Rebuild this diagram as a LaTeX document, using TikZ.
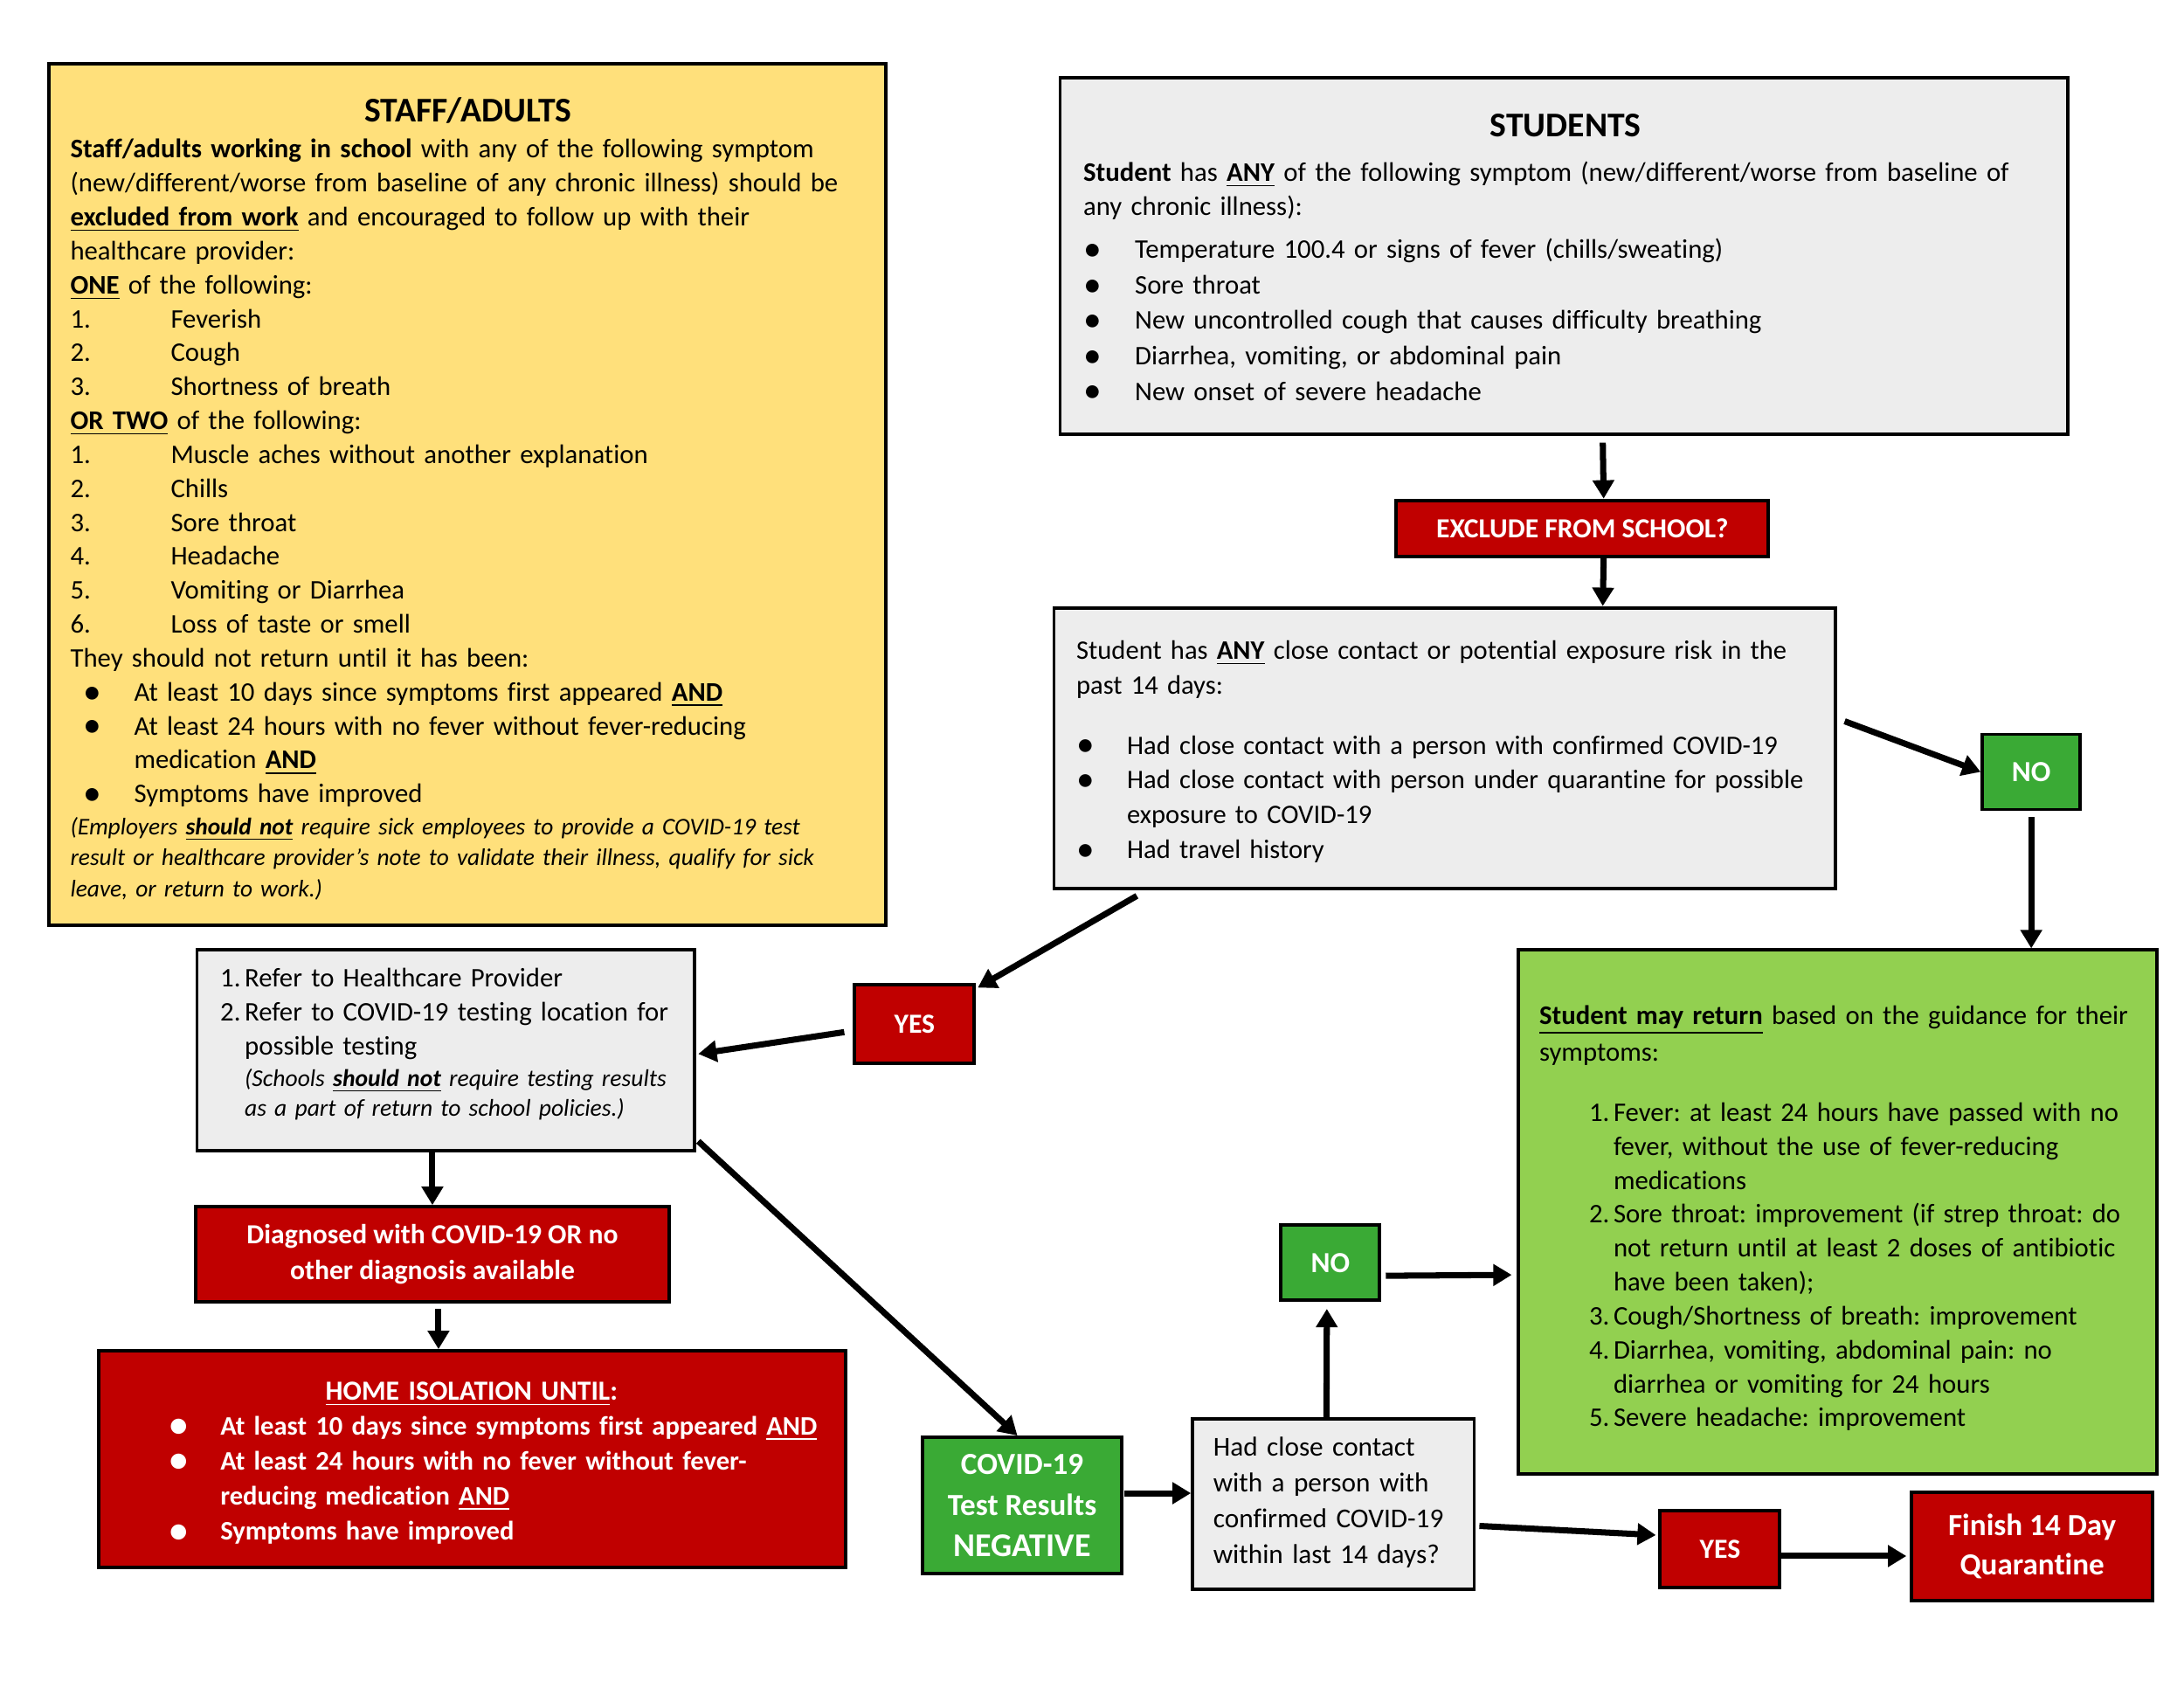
\documentclass[tikz,border=0pt]{standalone}
\usepackage{fontspec}
\setmainfont{Carlito}[Ligatures={TeX,NoCommon}]
\usetikzlibrary{fit,calc,arrows.meta}
\definecolor{yel}{HTML}{FFE07B}
\definecolor{gry}{HTML}{EDEDED}
\definecolor{dred}{HTML}{C00000}
\definecolor{dgrn}{HTML}{3AAA35}
\definecolor{lgrn}{HTML}{92D050}
\frenchspacing
\newcommand{\mybul}[1]{\makebox[#1][l]{\raisebox{-0.8pt}{\scalebox{1.35}{\textbullet}}}}
\newcommand{\mynum}[2]{\makebox[#1][l]{#2}}
\begin{document}
\begin{tikzpicture}[x=0.00998cm,y=-0.01cm,
  bx/.style={draw=black,line width=1.1pt,inner sep=0pt},
  arr/.style={line width=2pt,-{Triangle[length=6pt,width=6.8pt]}},
  tx/.style={anchor=base west,inner sep=0pt,align=left,text width=12cm},
  ctx/.style={anchor=base,inner sep=0pt,align=center,text width=8cm},
  nine/.style={font=\fontsize{8.75}{11.05}\selectfont},
  wb/.style={text=white,font=\fontsize{9}{11}\selectfont\bfseries,align=center}
]
\useasboundingbox (0cm,0cm) rectangle (25cm,-19.32cm);
\fill[white] (0cm,0cm) rectangle (25cm,-19.32cm);

% ---------- boxes ----------
\node[bx,fill=yel,fit={(56,73)(1016,1060)}] (staff) {};
\node[bx,fill=gry,fit={(1216,89)(2372,497)}] (students) {};
\node[bx,fill=dred,wb,minimum width=4.26cm,minimum height=0.64cm] (excl) at (1815,605) {EXCLUDE FROM SCHOOL?};
\node[bx,fill=gry,fit={(1209,696)(2105,1018)}] (expo) {};
\node[bx,fill=dgrn,wb,font=\fontsize{9.5}{11}\selectfont\bfseries,minimum width=1.12cm,minimum height=0.86cm] (no1) at (2330,884) {NO};
\node[bx,fill=lgrn,fit={(1742,1088)(2474,1688)}] (green) {};
\node[bx,fill=gry,fit={(226,1088)(797,1318)}] (refer) {};
\node[bx,fill=dred,wb,minimum width=1.37cm,minimum height=0.90cm] (yes1) at (1049,1173) {YES};
\node[bx,fill=dred,wb,font=\fontsize{9}{11.7}\selectfont\bfseries,minimum width=5.42cm,minimum height=1.09cm] (diag) at (496,1436.5) {Diagnosed with COVID-19 OR no\\other diagnosis available};
\node[bx,fill=dred,fit={(113,1547)(970,1795)}] (home) {};
\node[bx,fill=dgrn,wb,font=\fontsize{10}{13.4}\selectfont\bfseries,minimum width=2.28cm,minimum height=1.56cm] (neg) at (1172.5,1724) {COVID-19\\Test Results\\{\fontsize{10.8}{13.4}\selectfont NEGATIVE}};
\node[bx,fill=gry,fit={(1368,1625)(1691,1820)}] (had) {};
\node[bx,fill=dgrn,wb,font=\fontsize{9.5}{11}\selectfont\bfseries,minimum width=1.13cm,minimum height=0.86cm] (no2) at (1526,1446) {NO};
\node[bx,fill=dred,wb,minimum width=1.37cm,minimum height=0.88cm] (yes2) at (1973,1774) {YES};
\node[bx,fill=dred,wb,font=\fontsize{10}{12.8}\selectfont\bfseries,minimum width=2.76cm,minimum height=1.24cm] (finish) at (2331,1771) {Finish 14 Day\\Quarantine};

% ---------- texts ----------
\node[ctx,font=\fontsize{11.3}{13}\selectfont\bfseries] (stafftitle) at (537,140) {STAFF/ADULTS};
\node[tx,nine] (staffbody) at (80,181) {%
\textbf{Staff/adults working in school} with any of the following symptom\\
(new/different/worse from baseline of any chronic illness) should be\\
\underline{\textbf{excluded from work}} and encouraged to follow up with their\\
healthcare provider:\\
\underline{\textbf{ONE}} of the following:\\
\mynum{1.15cm}{1.}Feverish\\
\mynum{1.15cm}{2.}Cough\\
\mynum{1.15cm}{3.}Shortness of breath\\
\underline{\textbf{OR TWO}} of the following:\\
\mynum{1.15cm}{1.}Muscle aches without another explanation\\
\mynum{1.15cm}{2.}Chills\\
\mynum{1.15cm}{3.}Sore throat\\
\mynum{1.15cm}{4.}Headache\\
\mynum{1.15cm}{5.}Vomiting or Diarrhea\\
\mynum{1.15cm}{6.}Loss of taste or smell\\
They should not return until it has been:\\
\hspace*{0.15cm}\mybul{0.58cm}At least 10 days since symptoms first appeared \underline{\textbf{AND}}\\
\hspace*{0.15cm}\mybul{0.58cm}At least 24 hours with no fever without fever-reducing\\
\hspace*{0.73cm}medication \underline{\textbf{AND}}\\
\hspace*{0.15cm}\mybul{0.58cm}Symptoms have improved};
\node[tx,font=\fontsize{7.8}{10.1}\selectfont\itshape] (staffnote) at (80,956) {%
(Employers \underline{\textbf{should not}} require sick employees to provide a COVID-19 test\\
result or healthcare provider’s note to validate their illness, qualify for sick\\
leave, or return to work.)};

\node[ctx,font=\fontsize{11.3}{13}\selectfont\bfseries] (studtitle) at (1796,157) {STUDENTS};
\node[tx,nine] (studbody) at (1242,208) {%
\textbf{Student} has \underline{\textbf{ANY}} of the following symptom (new/different/worse from baseline of\\
any chronic illness):\\[2.9pt]
\mybul{0.59cm}Temperature 100.4 or signs of fever (chills/sweating)\\[0.5pt]
\mybul{0.59cm}Sore throat\\[0.5pt]
\mybul{0.59cm}New uncontrolled cough that causes difficulty breathing\\[0.5pt]
\mybul{0.59cm}Diarrhea, vomiting, or abdominal pain\\[0.5pt]
\mybul{0.59cm}New onset of severe headache};

\node[tx,font=\fontsize{8.7}{11.3}\selectfont] (expotxt) at (1234,755) {%
Student has \underline{\textbf{ANY}} close contact or potential exposure risk in the\\
past 14 days:\\[8.3pt]
\mybul{0.58cm}Had close contact with a person with confirmed COVID-19\\
\mybul{0.58cm}Had close contact with person under quarantine for possible\\
\hspace*{0.58cm}exposure to COVID-19\\
\mybul{0.58cm}Had travel history};

\node[tx,font=\fontsize{8.75}{11.1}\selectfont] (refertxt) at (252,1130) {%
\mynum{0.28cm}{1.}Refer to Healthcare Provider\\
\mynum{0.28cm}{2.}Refer to COVID-19 testing location for\\
\hspace*{0.28cm}possible testing};
\node[tx,font=\fontsize{7.85}{9.7}\selectfont\itshape] (refernote) at (280,1244) {%
(Schools \underline{\textbf{should not}} require testing results\\
as a part of return to school policies.)};

\node[ctx,text=white,font=\fontsize{9}{11}\selectfont\bfseries] (hometitle) at (541,1603) {\underline{HOME ISOLATION UNTIL}:};
\node[tx,text=white,font=\fontsize{8.7}{11.4}\selectfont\bfseries] (homebody) at (194,1643) {%
\mybul{0.58cm}At least 10 days since symptoms first appeared \underline{AND}\\
\mybul{0.58cm}At least 24 hours with no fever without fever-\\
\hspace*{0.58cm}reducing medication \underline{AND}\\
\mybul{0.58cm}Symptoms have improved};

\node[tx,font=\fontsize{8.9}{11.7}\selectfont] (hadtxt) at (1391,1667) {%
Had close contact\\
with a person with\\
confirmed COVID-19\\
within last 14 days?};

\node[tx,nine] (greentxt) at (1765,1173) {%
\underline{\textbf{Student may return}} based on the guidance for their\\[1pt]
symptoms:\\[8.5pt]
\hspace*{0.57cm}\mynum{0.28cm}{1.}Fever: at least 24 hours have passed with no\\
\hspace*{0.85cm}fever, without the use of fever-reducing\\
\hspace*{0.85cm}medications\\
\hspace*{0.57cm}\mynum{0.28cm}{2.}Sore throat: improvement (if strep throat: do\\
\hspace*{0.85cm}not return until at least 2 doses of antibiotic\\
\hspace*{0.85cm}have been taken);\\
\hspace*{0.57cm}\mynum{0.28cm}{3.}Cough/Shortness of breath: improvement\\
\hspace*{0.57cm}\mynum{0.28cm}{4.}Diarrhea, vomiting, abdominal pain: no\\
\hspace*{0.85cm}diarrhea or vomiting for 24 hours\\
\hspace*{0.57cm}\mynum{0.28cm}{5.}Severe headache: improvement};

% ---------- connectors ----------
\draw[arr] ($(students.south)+(44.5,8)$) -- ($(excl.north)+(24.5,0)$);
\draw[arr] ($(excl.south)+(24.5,0)$) -- ($(expo.north)+(181.5,0)$);
\draw[arr] ($(expo.east)+(9,-31)$) -- (no1.west);
\draw[arr] ($(no1.south)+(0,7)$) -- (green.north -| no1.south);
\draw[arr] ($(expo.south west)+(97,6)$) -- ($(yes1.north east)+(2,5)$);
\draw[arr] ($(yes1.west)+(-10,9)$) -- ($(refer.east)+(2,4)$);
\draw[arr] (refer.south -| diag.north) -- (diag.north);
\draw[arr] ($(diag.south)+(7,6)$) -- ($(home.north)+(-38.5,0)$);
\draw[arr] ($(refer.south east)+(2,-13)$) -- ($(neg.north)+(-5.5,0)$);
\draw[arr] ($(neg.east)+(1,-14)$) -- ($(had.west)+(0,-12.5)$);
\draw[arr] ($(had.north)+(-8,0)$) -- ($(no2.south)+(-4,8)$);
\draw[arr] ($(no2.east)+(5,15)$) -- ($(green.west)+(-6,72)$);
\draw[arr] ($(had.east)+(4,25)$) -- ($(yes2.west)+(-3,-16)$);
\draw[arr] ($(yes2.east)+(0,8)$) -- ($(finish.west)+(-4,11)$);
\end{tikzpicture}
\end{document}
